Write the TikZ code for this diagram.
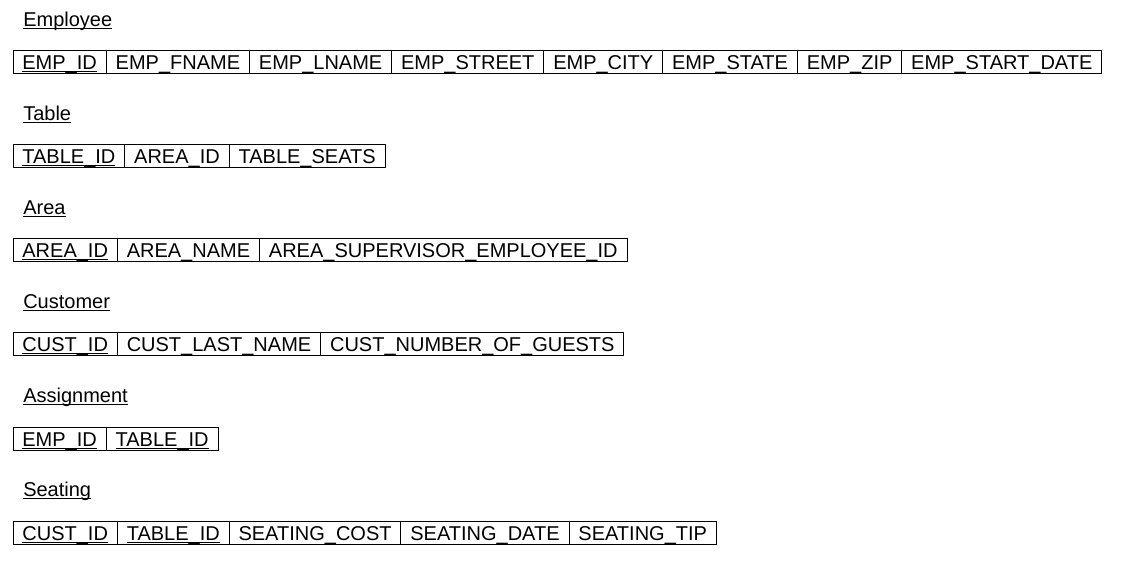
\documentclass[tikz,border=0pt]{standalone}
\usepackage{fontspec}
\setmainfont{Liberation Sans}
\usetikzlibrary{positioning}
\newcommand{\pk}[1]{\setbox0\hbox{#1}\rlap{\rule[-1.7pt]{\wd0}{0.75pt}}\box0}
\tikzset{
	cell/.style={draw, line width=0.75pt, outer sep=0pt, inner xsep=7.05pt, inner ysep=0pt,
		minimum height=17.25pt, text height=10.7pt, text depth=0pt, font=\fontsize{15}{18}\selectfont},
	title/.style={anchor=base west, inner sep=0pt, font=\fontsize{15}{18}\selectfont}
}

\begin{document}
\begin{tikzpicture}[x=0.75pt,y=0.75pt]
	\useasboundingbox (0,0) rectangle (1126,573);
	\node[title] (emp) at (23,546.5) {\pk{Employee}};
	\node[cell, anchor=west] (e1) at (13,510.5) {\pk{EMP\_ID}};
	\node[cell, right=0pt of e1] (e2) {EMP\_FNAME};
	\node[cell, right=0pt of e2] (e3) {EMP\_LNAME};
	\node[cell, right=0pt of e3] (e4) {EMP\_STREET};
	\node[cell, right=0pt of e4] (e5) {EMP\_CITY};
	\node[cell, right=0pt of e5] (e6) {EMP\_STATE};
	\node[cell, right=0pt of e6] (e7) {EMP\_ZIP};
	\node[cell, right=0pt of e7] (e8) {EMP\_START\_DATE};

	\node[title] (tab) at (23,452.5) {\pk{Table}};
	\node[cell, anchor=west] (t1) at (13,416.5) {\pk{TABLE\_ID}};
	\node[cell, right=0pt of t1] (t2) {AREA\_ID};
	\node[cell, right=0pt of t2] (t3) {TABLE\_SEATS};

	\node[title] (area) at (23,358.5) {\pk{Area}};
	\node[cell, anchor=west] (a1) at (13,322.5) {\pk{AREA\_ID}};
	\node[cell, right=0pt of a1] (a2) {AREA\_NAME};
	\node[cell, right=0pt of a2] (a3) {AREA\_SUPERVISOR\_EMPLOYEE\_ID};

	\node[title] (cust) at (23,264.5) {\pk{Customer}};
	\node[cell, anchor=west] (c1) at (13,228.5) {\pk{CUST\_ID}};
	\node[cell, right=0pt of c1] (c2) {CUST\_LAST\_NAME};
	\node[cell, right=0pt of c2] (c3) {CUST\_NUMBER\_OF\_GUESTS};

	\node[title] (asg) at (23,170.5) {\pk{Assignment}};
	\node[cell, anchor=west] (g1) at (13,133.5) {\pk{EMP\_ID}};
	\node[cell, right=0pt of g1] (g2) {\pk{TABLE\_ID}};

	\node[title] (seat) at (23,76.5) {\pk{Seating}};
	\node[cell, anchor=west] (s1) at (13,39.5) {\pk{CUST\_ID}};
	\node[cell, right=0pt of s1] (s2) {\pk{TABLE\_ID}};
	\node[cell, right=0pt of s2] (s3) {SEATING\_COST};
	\node[cell, right=0pt of s3] (s4) {SEATING\_DATE};
	\node[cell, right=0pt of s4] (s5) {SEATING\_TIP};
\end{tikzpicture}
\end{document}
